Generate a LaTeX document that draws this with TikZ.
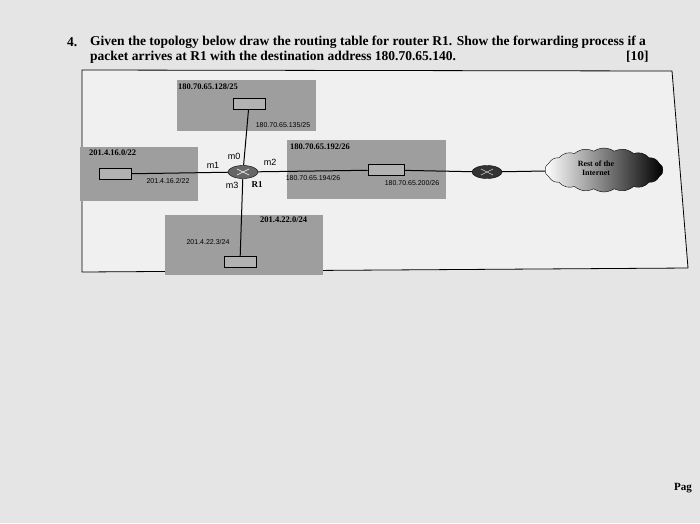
\documentclass[tikz,border=0pt]{standalone}
\usepackage{fontspec}
\setmainfont{Liberation Serif}
\setsansfont{Liberation Sans}
\usetikzlibrary{shapes.geometric,shapes.symbols}
\begin{document}
\begin{tikzpicture}[x=1pt,y=-1pt,
  net/.style={fill=black!38,draw=none},
  host/.style={draw=black,fill=black!30,minimum width=32pt,minimum height=11pt,inner sep=0pt,line width=0.9pt},
  rtr/.style={ellipse,draw=black,fill=black!60,minimum width=30pt,minimum height=13pt,inner sep=0pt},
  addr/.style={font=\sffamily\fontsize{7}{8}\selectfont,inner sep=1pt},
  netlbl/.style={font=\bfseries\fontsize{8.5}{9}\selectfont,inner sep=1pt,anchor=north west},
  ifl/.style={font=\sffamily\fontsize{9}{10}\selectfont,inner sep=1pt},
  qt/.style={anchor=west,font=\bfseries\fontsize{13.5}{15}\selectfont,inner sep=0},
  link/.style={line width=1pt}]
\fill[black!10] (0,0) rectangle (700,523);
\useasboundingbox (0,0) rectangle (700,523);
% question
\node[qt] (q4) at (67,42) {4.};
\node[qt] (q1) at (90,42) {Given the topology below draw the routing table for router R1. Show the forwarding process if a};
\node[qt] (q2) at (90,57) {packet arrives at R1 with the destination address 180.70.65.140.};
\node[qt] (q3) at (626,57) {[10]};
% frame
\fill[black!6] (82,70) -- (672,71) -- (688,268) -- (82,272) -- cycle;
\draw[line width=0.8pt] (82,70) -- (672,71) -- (688,268) -- (82,272) -- cycle;
% networks
\fill[net] (177,80) rectangle (316,131);
\fill[net] (80,147) rectangle (198,201);
\fill[net] (287,140) rectangle (446,199);
\fill[net] (165,215) rectangle (323,275);
\node[netlbl] (n1) at (177,83) {180.70.65.128/25};
\node[netlbl] (n2) at (88,149) {201.4.16.0/22};
\node[netlbl] (n3) at (289,143) {180.70.65.192/26};
\node[netlbl] (n4) at (259,216) {201.4.22.0/24};
% devices
\node[rtr] (r1) at (243,172) {};
\draw[white,line width=0.6pt] (237,169) -- (249,175) (237,175) -- (249,169);
\node[host] (h0) at (249,104) {};
\node[host] (h1) at (115,174) {};
\node[host] (h3) at (240,262) {};
\node[host,minimum width=36pt] (h2) at (386,170) {};
\node[rtr,fill=black!80] (r2) at (487,172) {};
\draw[white!80!black,line width=0.6pt] (481,169) -- (493,175) (481,175) -- (493,169);
\node[cloud,cloud puffs=18,cloud puff arc=70,aspect=2.8,draw,left color=white,right color=black,shading angle=90,minimum width=118pt,minimum height=44pt,inner sep=0pt] (cl) at (604,170) {};
\node[font=\bfseries\fontsize{8}{9}\selectfont,align=center] (cltxt) at (596,168) {Rest of the\\Internet};
% links
\draw[link] (r1) -- (h0);
\draw[link] (r1) -- (h1);
\draw[link] (r1) -- (h3);
\draw[link] (r1) -- (h2);
\draw[link] (h2) -- (r2);
\draw[link] (r2) -- (cl);
% labels
\node[addr] (a0) at (283,125) {180.70.65.135/25};
\node[addr] (a1) at (168,181) {201.4.16.2/22};
\node[addr] (a2) at (313,178) {180.70.65.194/26};
\node[addr] (a3) at (412,183) {180.70.65.200/26};
\node[addr] (a4) at (208,242) {201.4.22.3/24};
\node[ifl] (m0) at (234,156) {m0};
\node[ifl] (m1) at (213,165) {m1};
\node[ifl] (m2) at (270,162) {m2};
\node[ifl] (m3) at (232,185) {m3};
\node[font=\bfseries\fontsize{9}{10}\selectfont] (rl) at (257,185) {R1};
\node[anchor=west,font=\bfseries\fontsize{11}{12}\selectfont,inner sep=0] (pg) at (674,488) {Pag};
\end{tikzpicture}
\end{document}
